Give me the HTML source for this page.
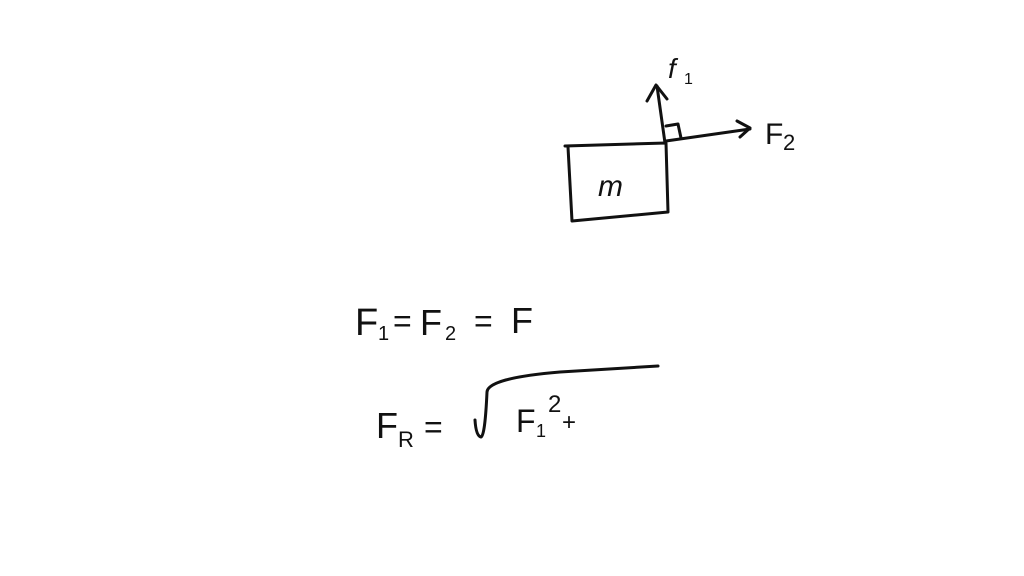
<!DOCTYPE html>
<html><head><meta charset="utf-8"><style>
html,body{margin:0;padding:0;background:#fff;width:1024px;height:576px;overflow:hidden}
svg{display:block}
text{font-family:"Liberation Sans",sans-serif;fill:#111}
</style></head><body>
<svg width="1024" height="576" viewBox="0 0 1024 576">
<g fill="none" stroke="#111" stroke-width="3" stroke-linecap="round" stroke-linejoin="round">
<path d="M565,146 L666,143 L668,212 L572,221 L568,147"/>
<path d="M665,143 L657,86"/>
<path d="M647,101 L656,85 L667,99"/>
<path d="M666,141 L750,129"/>
<path d="M737,121 L750,128 L740,137"/>
<path d="M666,126 L678,124 L681,138"/>
<path d="M475,420 Q476,436 481,437 Q485,436 487,392 Q488,378 560,372 L658,366"/>
</g>
<text x="668" y="78" font-size="28" font-style="italic">f</text>
<text x="684" y="84" font-size="16">1</text>
<text x="765" y="144" font-size="30">F</text>
<text x="783" y="150" font-size="22">2</text>
<text x="598" y="196" font-size="30" font-style="italic">m</text>
<text x="355" y="335" font-size="38">F</text>
<text x="378" y="340" font-size="20">1</text>
<text x="393" y="332" font-size="32">=</text>
<text x="420" y="335" font-size="36">F</text>
<text x="445" y="340" font-size="20">2</text>
<text x="474" y="332" font-size="32">=</text>
<text x="511" y="333" font-size="36">F</text>
<text x="376" y="438" font-size="36">F</text>
<text x="398" y="447" font-size="22">R</text>
<text x="424" y="438" font-size="32">=</text>
<text x="516" y="432" font-size="32">F</text>
<text x="536" y="437" font-size="18">1</text>
<text x="548" y="412" font-size="24">2</text>
<text x="562" y="430" font-size="24">+</text>
</svg>
</body></html>
